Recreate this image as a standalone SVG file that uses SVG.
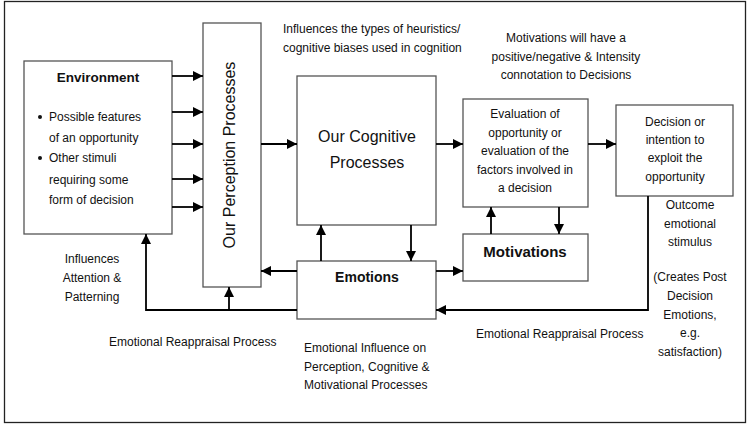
<svg xmlns="http://www.w3.org/2000/svg" width="751" height="429" viewBox="0 0 751 429">
<defs>
<marker id="ah" viewBox="0 0 10 10" refX="10" refY="5" markerWidth="10" markerHeight="10" markerUnits="userSpaceOnUse" orient="auto">
<path d="M0,0 L10,5 L0,10 z" fill="#000"/>
</marker>
<style>
.box{fill:#fff;stroke:#555;stroke-width:1.3}
.ar{fill:none;stroke:#000;stroke-width:1.8;marker-end:url(#ah)}
text{font-family:"Liberation Sans",Arial,sans-serif;font-size:12px;fill:#111}
.c{text-anchor:middle}
.b{font-weight:bold;font-size:13.5px}
.big{font-size:16px}
</style>
</defs>
<rect x="0" y="0" width="751" height="429" fill="#fff"/>
<rect x="4.5" y="1.5" width="741" height="421" fill="#fff" stroke="#222" stroke-width="1.3"/>

<g id="environment">
<rect class="box" x="24" y="61" width="148" height="173"/>
<text class="c b" x="98" y="82">Environment</text>
<circle cx="40" cy="117" r="2" fill="#111"/>
<circle cx="40" cy="158" r="2" fill="#111"/>
<text x="49" y="121">Possible features</text>
<text x="49" y="142">of an opportunity</text>
<text x="49" y="162">Other stimuli</text>
<text x="49" y="184">requiring some</text>
<text x="49" y="204">form of decision</text>
</g>

<g id="perception">
<rect class="box" x="203" y="23" width="58" height="264"/>
<text class="c big" transform="translate(235,155) rotate(-90)">Our Perception Processes</text>
</g>

<g id="cognitive">
<rect class="box" x="297" y="76" width="139" height="149"/>
<text class="c big" x="367" y="142">Our Cognitive</text>
<text class="c big" x="367" y="168">Processes</text>
</g>

<g id="evaluation">
<rect class="box" x="463" y="99" width="125" height="108"/>
<text class="c" x="525" y="118">Evaluation of</text>
<text class="c" x="525" y="137">opportunity or</text>
<text class="c" x="525" y="155">evaluation of the</text>
<text class="c" x="525" y="174">factors involved in</text>
<text class="c" x="525" y="192">a decision</text>
</g>

<g id="decision">
<rect class="box" x="616" y="105" width="117" height="91"/>
<text class="c" x="675" y="126">Decision or</text>
<text class="c" x="675" y="144">intention to</text>
<text class="c" x="675" y="162">exploit the</text>
<text class="c" x="675" y="181">opportunity</text>
</g>

<g id="emotions">
<rect class="box" x="297" y="261" width="139" height="58"/>
<text class="c b" x="367" y="282" style="font-size:14px">Emotions</text>
</g>

<g id="motivations">
<rect class="box" x="463" y="234" width="125" height="47"/>
<text class="c b" x="525" y="257" style="font-size:15px">Motivations</text>
</g>

<g id="connectors">
<line class="ar" x1="172" y1="76" x2="203" y2="76"/>
<line class="ar" x1="172" y1="112" x2="203" y2="112"/>
<line class="ar" x1="172" y1="144" x2="203" y2="144"/>
<line class="ar" x1="172" y1="179" x2="203" y2="179"/>
<line class="ar" x1="172" y1="207" x2="203" y2="207"/>
<line class="ar" x1="261" y1="144" x2="297" y2="144"/>
<line class="ar" x1="436" y1="144" x2="463" y2="144"/>
<line class="ar" x1="588" y1="144" x2="616" y2="144"/>
<line class="ar" x1="321" y1="261" x2="321" y2="225"/>
<line class="ar" x1="411" y1="225" x2="411" y2="261"/>
<line class="ar" x1="297" y1="271" x2="261" y2="271"/>
<line class="ar" x1="436" y1="271" x2="463" y2="271"/>
<line class="ar" x1="491" y1="234" x2="491" y2="207"/>
<line class="ar" x1="559" y1="207" x2="559" y2="234"/>
<polyline class="ar" points="297,310 146,310 146,234"/>
<line class="ar" x1="229" y1="310" x2="229" y2="287"/>
<polyline class="ar" points="648,196 648,310 436,310"/>
</g>

<g id="labels">
<text x="283" y="33">Influences the types of heuristics/</text>
<text x="283" y="52">cognitive biases used in cognition</text>
<text class="c" x="566" y="42">Motivations will have a</text>
<text class="c" x="566" y="61">positive/negative &amp; Intensity</text>
<text class="c" x="566" y="79">connotation to Decisions</text>
<text class="c" x="690" y="209">Outcome</text>
<text class="c" x="690" y="228">emotional</text>
<text class="c" x="690" y="246">stimulus</text>
<text class="c" x="690" y="281">(Creates Post</text>
<text class="c" x="690" y="300">Decision</text>
<text class="c" x="690" y="319">Emotions,</text>
<text class="c" x="690" y="337">e.g.</text>
<text class="c" x="690" y="356">satisfaction)</text>
<text class="c" x="92" y="263">Influences</text>
<text class="c" x="92" y="282">Attention &amp;</text>
<text class="c" x="92" y="301">Patterning</text>
<text x="109" y="346">Emotional Reappraisal Process</text>
<text x="476" y="338">Emotional Reappraisal Process</text>
<text x="304" y="352">Emotional Influence on</text>
<text x="304" y="371">Perception, Cognitive &amp;</text>
<text x="304" y="389">Motivational Processes</text>
</g>
</svg>
